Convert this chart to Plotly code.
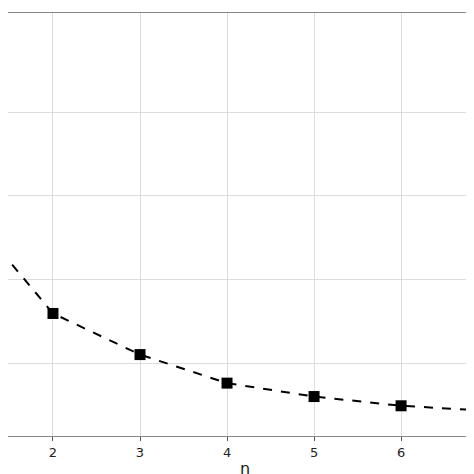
import plotly.graph_objects as go

n_vals = [1, 2, 3, 4, 5, 6, 7]
y_vals = [2.84, 1.60, 1.11, 0.77, 0.61, 0.50, 0.44]
x_ticks = [1, 2, 3, 4, 5, 6, 7]

fig = go.Figure()
fig.add_trace(go.Scatter(x=n_vals, y=y_vals, mode="lines+markers",
    line=dict(color="black", width=2, dash="dash"),
    marker=dict(symbol="square", size=11, color="black")))
fig.update_layout(
    width=474, height=474, margin=dict(l=0, r=0, t=5, b=46, pad=0),
    plot_bgcolor="white", paper_bgcolor="white", showlegend=False,
    xaxis=dict(range=[1.483, 6.93], tickvals=x_ticks, showgrid=True, gridcolor="#dcdcdc",
               zeroline=False, ticks="outside", ticklen=4, tickcolor="#555", automargin=False,
               tickfont=dict(size=13, color="#222", family="DejaVu Sans"),
               title=dict(text="n", font=dict(size=16, color="#222", family="DejaVu Sans"), standoff=4),
               showline=True, linecolor="#888", mirror=True),
    yaxis=dict(range=[0.14, 5.18], tickvals=[1, 2, 3, 4], showticklabels=False, automargin=False,
               showgrid=True, gridcolor="#dcdcdc", zeroline=False,
               showline=True, linecolor="#888", mirror=True),
)
fig.write_html("out.html")
